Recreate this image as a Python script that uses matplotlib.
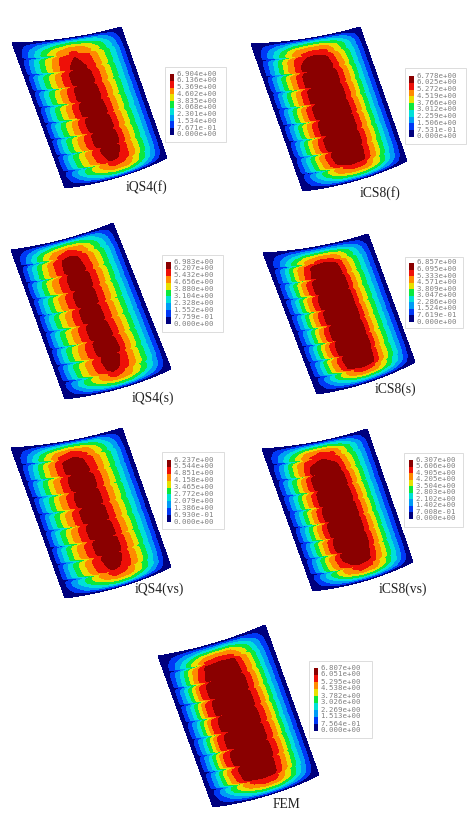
import numpy as np
import matplotlib
matplotlib.use("Agg")
import matplotlib.pyplot as plt
from matplotlib.colors import ListedColormap
from matplotlib.patches import Rectangle

names = ["iQS4(f)", "iCS8(f)", "iQS4(s)", "iCS8(s)", "iQS4(vs)", "iCS8(vs)", "FEM"]

legend_f4 = ["6.904e+00", "6.136e+00", "5.369e+00", "4.602e+00", "3.835e+00", "3.068e+00", "2.301e+00", "1.534e+00", "7.671e-01", "0.000e+00"]
legend_c8f = ["6.778e+00", "6.025e+00", "5.272e+00", "4.519e+00", "3.766e+00", "3.012e+00", "2.259e+00", "1.506e+00", "7.531e-01", "0.000e+00"]
legend_s4 = ["6.983e+00", "6.207e+00", "5.432e+00", "4.656e+00", "3.880e+00", "3.104e+00", "2.328e+00", "1.552e+00", "7.759e-01", "0.000e+00"]
legend_c8s = ["6.857e+00", "6.095e+00", "5.333e+00", "4.571e+00", "3.809e+00", "3.047e+00", "2.286e+00", "1.524e+00", "7.619e-01", "0.000e+00"]
legend_v4 = ["6.237e+00", "5.544e+00", "4.851e+00", "4.158e+00", "3.465e+00", "2.772e+00", "2.079e+00", "1.386e+00", "6.930e-01", "0.000e+00"]
legend_c8v = ["6.307e+00", "5.606e+00", "4.905e+00", "4.205e+00", "3.504e+00", "2.803e+00", "2.102e+00", "1.402e+00", "7.008e-01", "0.000e+00"]
legend_fem = ["6.807e+00", "6.051e+00", "5.295e+00", "4.538e+00", "3.782e+00", "3.026e+00", "2.269e+00", "1.513e+00", "7.564e-01", "0.000e+00"]
legends = [legend_f4, legend_c8f, legend_s4, legend_c8s, legend_v4, legend_c8v, legend_fem]

# stations on the plate, fraction of length and of width
v_st = [0, .03, .07, .13, .25, .5, .75, .87, .93, .97, 1]
u_st = [0, .125, .25, .375, .5, .625, .75, .875, 1]

# percent of peak displacement
field_f4 = [[0, 0, 0, 0, 0, 0, 0, 0, 0],
            [0, 14, 26, 36, 42, 40, 32, 18, 0],
            [0, 24, 46, 62, 70, 64, 50, 28, 0],
            [0, 32, 60, 80, 88, 80, 60, 34, 0],
            [0, 36, 64, 86, 100, 86, 62, 34, 0],
            [0, 36, 64, 88, 100, 88, 62, 34, 0],
            [0, 36, 64, 86, 100, 90, 64, 34, 0],
            [0, 32, 58, 78, 92, 86, 64, 34, 0],
            [0, 24, 46, 62, 74, 72, 54, 30, 0],
            [0, 14, 26, 38, 46, 44, 34, 18, 0],
            [0, 0, 0, 0, 0, 0, 0, 0, 0]]
field_c8f = [[0, 0, 0, 0, 0, 0, 0, 0, 0],
             [0, 14, 26, 36, 40, 40, 32, 18, 0],
             [0, 24, 46, 66, 72, 72, 54, 30, 0],
             [0, 30, 64, 86, 92, 88, 64, 34, 0],
             [0, 36, 70, 94, 100, 96, 70, 35, 0],
             [0, 36, 72, 97, 100, 98, 70, 35, 0],
             [0, 36, 72, 97, 100, 98, 70, 35, 0],
             [0, 32, 64, 88, 96, 92, 66, 34, 0],
             [0, 24, 46, 66, 74, 72, 56, 30, 0],
             [0, 14, 28, 38, 42, 42, 32, 18, 0],
             [0, 0, 0, 0, 0, 0, 0, 0, 0]]
field_s4 = [[0, 0, 0, 0, 0, 0, 0, 0, 0],
            [0, 14, 28, 38, 44, 42, 34, 18, 0],
            [0, 26, 50, 68, 76, 70, 50, 28, 0],
            [0, 32, 62, 86, 96, 84, 60, 34, 0],
            [0, 36, 66, 86, 100, 88, 64, 34, 0],
            [0, 36, 64, 86, 100, 86, 62, 34, 0],
            [0, 36, 64, 84, 100, 90, 64, 34, 0],
            [0, 32, 60, 80, 94, 84, 62, 34, 0],
            [0, 26, 48, 64, 76, 70, 52, 30, 0],
            [0, 14, 28, 38, 44, 42, 32, 18, 0],
            [0, 0, 0, 0, 0, 0, 0, 0, 0]]
field_c8s = [[0, 0, 0, 0, 0, 0, 0, 0, 0],
             [0, 12, 22, 28, 30, 30, 24, 14, 0],
             [0, 22, 42, 60, 66, 64, 48, 26, 0],
             [0, 30, 66, 88, 94, 88, 60, 32, 0],
             [0, 34, 72, 97, 100, 95, 64, 33, 0],
             [0, 34, 72, 98, 100, 96, 64, 33, 0],
             [0, 34, 72, 98, 100, 96, 64, 33, 0],
             [0, 31, 66, 90, 98, 90, 62, 33, 0],
             [0, 22, 44, 64, 72, 68, 50, 28, 0],
             [0, 13, 24, 32, 36, 34, 28, 16, 0],
             [0, 0, 0, 0, 0, 0, 0, 0, 0]]
field_v4 = [[0, 0, 0, 0, 0, 0, 0, 0, 0],
            [0, 14, 28, 38, 44, 42, 34, 18, 0],
            [0, 26, 50, 70, 78, 72, 52, 28, 0],
            [0, 33, 64, 88, 96, 84, 62, 34, 0],
            [0, 36, 66, 88, 100, 88, 64, 34, 0],
            [0, 36, 66, 88, 100, 88, 64, 35, 0],
            [0, 36, 66, 86, 100, 90, 66, 35, 0],
            [0, 33, 60, 80, 92, 86, 64, 34, 0],
            [0, 26, 46, 64, 76, 72, 54, 30, 0],
            [0, 14, 28, 38, 46, 44, 34, 18, 0],
            [0, 0, 0, 0, 0, 0, 0, 0, 0]]
field_c8v = [[0, 0, 0, 0, 0, 0, 0, 0, 0],
             [0, 14, 26, 36, 40, 40, 30, 16, 0],
             [0, 24, 46, 68, 76, 74, 52, 28, 0],
             [0, 30, 64, 86, 90, 86, 60, 32, 0],
             [0, 34, 68, 96, 100, 95, 66, 33, 0],
             [0, 34, 70, 97, 100, 97, 68, 33, 0],
             [0, 34, 70, 97, 100, 97, 68, 33, 0],
             [0, 32, 64, 86, 92, 88, 64, 33, 0],
             [0, 24, 46, 66, 76, 72, 54, 30, 0],
             [0, 14, 26, 36, 42, 40, 32, 18, 0],
             [0, 0, 0, 0, 0, 0, 0, 0, 0]]
field_fem = [[0, 0, 0, 0, 0, 0, 0, 0, 0],
             [0, 12, 22, 30, 34, 34, 26, 14, 0],
             [0, 22, 44, 64, 70, 68, 50, 26, 0],
             [0, 32, 68, 92, 95, 92, 66, 32, 0],
             [0, 36, 78, 100, 100, 98, 72, 35, 0],
             [0, 36, 80, 100, 100, 98, 74, 36, 0],
             [0, 36, 80, 100, 100, 98, 74, 36, 0],
             [0, 33, 70, 94, 98, 94, 68, 35, 0],
             [0, 24, 48, 66, 76, 74, 56, 30, 0],
             [0, 14, 26, 36, 42, 42, 32, 18, 0],
             [0, 0, 0, 0, 0, 0, 0, 0, 0]]
fields = [field_f4, field_c8f, field_s4, field_c8s, field_v4, field_c8v, field_fem]

# how far the contours drop along a stiffener, percent of peak
rib_dip = [0, 34, 44, 16, 2, 6, 9, 2, 0]
n_ribs = 8

band_colors = ["#00007e", "#0038f5", "#009cf5", "#00e0d8", "#0ce83c",
               "#e8e000", "#ff8a00", "#ee1008", "#8a0000"]

# plate corners TL, TR, BR, BL in image pixels
corners = [[(12, 43), (121, 27), (167, 158), (65, 188)],
           [(251, 44), (360, 27), (407, 161), (303, 191)],
           [(11, 250), (113, 223), (171, 369), (65, 399)],
           [(263, 253), (368, 234), (415, 362), (317, 394)],
           [(11, 448), (122, 428), (171, 567), (65, 598)],
           [(262, 449), (367, 429), (413, 562), (313, 591)],
           [(158, 656), (265, 625), (319, 775), (213, 807)]]
# legend box x0, y0, x1, y1 / bar x0, y0, x1, y1
boxes = [(165, 67, 226, 142), (405, 68, 466, 144), (162, 255, 223, 332), (405, 257, 463, 328),
         (162, 452, 224, 529), (404, 453, 463, 527), (309, 661, 372, 738)]
bars = [(170, 74, 174, 135), (409, 76, 414, 137), (166, 262, 171, 324), (409, 263, 414, 322),
        (167, 460, 171, 522), (409, 460, 413, 519), (314, 668, 318, 731)]
label_pos = [(147, 187), (380, 193), (153, 398), (395, 389), (159, 589), (403, 589), (287, 805)]

fig = plt.figure(figsize=(4.74, 8.19), dpi=100)
ax = fig.add_axes([0, 0, 1, 1])
ax.set_xlim(0, 474)
ax.set_ylim(819, 0)
ax.axis("off")

cmap = ListedColormap(band_colors)

u = np.linspace(0, 1, 360)
v = np.linspace(0, 1, 900)
U, V = np.meshgrid(u, v)

for i, name in enumerate(names):
    tl, tr, br, bl = [np.array(c, float) for c in corners[i]]
    down = (bl - tl) / np.linalg.norm(bl - tl)
    # both short edges bow towards the bottom of the plate
    top_x = tl[0] + U * (tr[0] - tl[0]) + 3.5 * 4 * U * (1 - U) * down[0]
    top_y = tl[1] + U * (tr[1] - tl[1]) + 3.5 * 4 * U * (1 - U) * down[1]
    bot_x = bl[0] + U * (br[0] - bl[0]) + 4.5 * 4 * U * (1 - U) * down[0]
    bot_y = bl[1] + U * (br[1] - bl[1]) + 4.5 * 4 * U * (1 - U) * down[1]
    X = top_x * (1 - V) + bot_x * V
    Y = top_y * (1 - V) + bot_y * V

    tab = np.array(fields[i], float)
    by_u = np.array([np.interp(u, u_st, row) for row in tab])
    Z = np.array([np.interp(v, v_st, by_u[:, k]) for k in range(len(u))]).T
    dip = np.interp(u, u_st, rib_dip)
    shape = np.zeros_like(V)
    for r in range(1, n_ribs + 1):
        d = V - r / (n_ribs + 1)
        shape = np.maximum(shape, np.where(d < 0, np.exp(d / 0.003), np.exp(-d / 0.007)))
    Z = np.clip(Z - dip[None, :] * shape, 0, 100)

    peak = float(legends[i][0])
    levels = np.linspace(0, peak, 10)
    ax.contourf(X, Y, Z / 100 * peak, levels=levels, cmap=cmap)

    x0, y0, x1, y1 = boxes[i]
    ax.add_patch(Rectangle((x0, y0), x1 - x0, y1 - y0, fc="white", ec="#dcdcdc", lw=0.7, zorder=3))
    bx0, by0, bx1, by1 = bars[i]
    ys = np.linspace(by0, by1, 10)
    ax.pcolormesh([bx0, bx1], ys, np.arange(8, -1, -1)[:, None], cmap=cmap, zorder=4)
    for lab, y in zip(legends[i], ys):
        ax.text(bx1 + 2.5, y - 0.5, lab, family="DejaVu Sans Mono", fontsize=5.3, color="#808080",
                va="center", ha="left", zorder=5)
    ax.text(label_pos[i][0], label_pos[i][1], name, family="Liberation Serif", fontsize=9.8,
            color="#222222", ha="center", va="center")

fig.savefig("out.png", dpi=100)
